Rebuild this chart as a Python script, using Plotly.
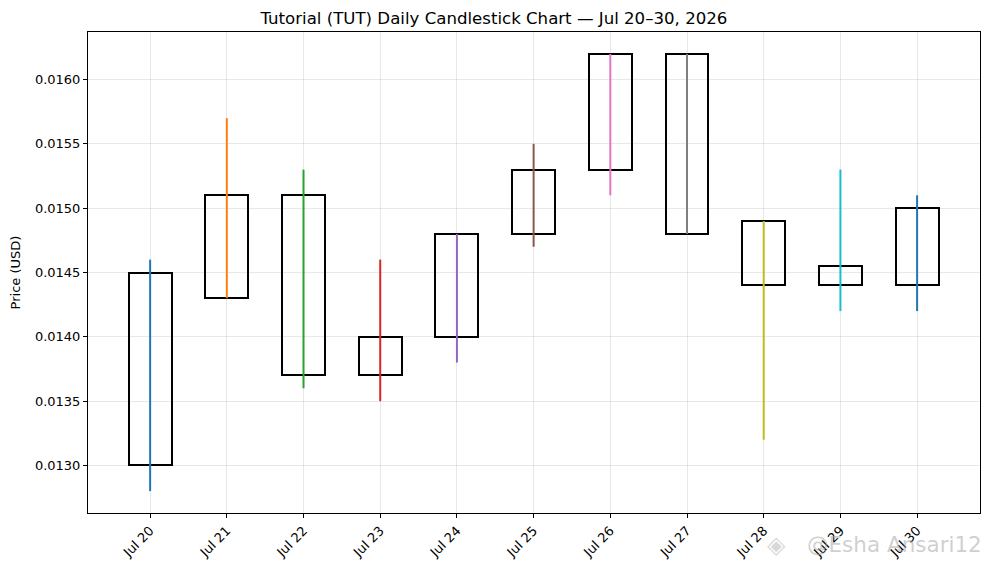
import plotly.graph_objects as go

# Daily OHLC values for TUT
dates = ["Jul 20", "Jul 21", "Jul 22", "Jul 23", "Jul 24", "Jul 25",
         "Jul 26", "Jul 27", "Jul 28", "Jul 29", "Jul 30"]
open_ = [0.0130, 0.0143, 0.0151, 0.0137, 0.0140, 0.0148,
         0.0153, 0.0162, 0.0149, 0.0144, 0.0144]
close = [0.0145, 0.0151, 0.0137, 0.0140, 0.0148, 0.0153,
         0.0162, 0.0148, 0.0144, 0.01455, 0.0150]
high = [0.0146, 0.0157, 0.0153, 0.0146, 0.0148, 0.0155,
        0.0162, 0.0162, 0.0149, 0.0153, 0.0151]
low = [0.0128, 0.0143, 0.0136, 0.0135, 0.0138, 0.0147,
       0.0151, 0.0148, 0.0132, 0.0142, 0.0142]

# matplotlib tab10 cycle used for the wicks
wick_colors = ["#1f77b4", "#ff7f0e", "#2ca02c", "#d62728", "#9467bd",
               "#8c564b", "#e377c2", "#7f7f7f", "#bcbd22", "#17becf", "#1f77b4"]

xs = list(range(len(dates)))
body_base = [min(o, c) for o, c in zip(open_, close)]
body_height = [abs(c - o) for o, c in zip(open_, close)]

fig = go.Figure()

# hollow candle bodies
fig.add_trace(go.Bar(
    x=xs, y=body_height, base=body_base, width=0.56,
    marker=dict(color="rgba(0,0,0,0)", line=dict(color="black", width=2)),
    hoverinfo="skip", showlegend=False,
))

# high-low wicks, one coloured line each
for i in xs:
    fig.add_trace(go.Scatter(
        x=[i, i], y=[low[i], high[i]], mode="lines",
        line=dict(color=wick_colors[i], width=2),
        showlegend=False, hoverinfo="skip",
    ))

# page body has an 8px margin, so the figure is a bit smaller than the window
fig.update_layout(
    width=973, height=554,
    margin=dict(l=80, r=1, t=24, b=49, autoexpand=False),
    paper_bgcolor="white", plot_bgcolor="white",
    font=dict(family="DejaVu Sans", size=13, color="black"),
    title=dict(text="Tutorial (TUT) Daily Candlestick Chart — Jul 20–30, 2026",
               x=0.4994, xanchor="center", y=0.992, yanchor="top",
               font=dict(size=16.6)),
    bargap=0,
)

fig.update_xaxes(
    range=[-0.81, 10.82], tickmode="array", tickvals=xs, ticktext=dates,
    tickangle=-45, ticks="outside", ticklen=4, tickcolor="black",
    showgrid=True, gridcolor="rgba(0,0,0,0.09)", gridwidth=1,
    showline=True, linecolor="black", linewidth=1, mirror=True,
    zeroline=False, automargin=False,
)
fig.update_yaxes(
    range=[0.01263, 0.01637], tickmode="array",
    tickvals=[0.0130, 0.0135, 0.0140, 0.0145, 0.0150, 0.0155, 0.0160],
    tickformat=".4f", ticks="outside", ticklen=4, tickcolor="black",
    showgrid=True, gridcolor="rgba(0,0,0,0.09)", gridwidth=1,
    showline=True, linecolor="black", linewidth=1, mirror=True,
    zeroline=False, automargin=False,
    title=dict(text="Price (USD)", standoff=18, font=dict(size=13)),
)

# watermark
fig.add_annotation(
    text="@Esha Ansari12", xref="paper", yref="paper",
    x=1.004, y=-0.0665, xanchor="right", yanchor="middle", showarrow=False,
    font=dict(size=21.5, color="rgba(160,160,160,0.5)", family="DejaVu Sans"),
)
fig.add_annotation(
    text="◈", xref="paper", yref="paper",
    x=0.772, y=-0.0665, xanchor="center", yanchor="middle", showarrow=False,
    font=dict(size=24, color="rgba(170,170,170,0.45)", family="DejaVu Sans"),
)

fig.write_html("out.html")
